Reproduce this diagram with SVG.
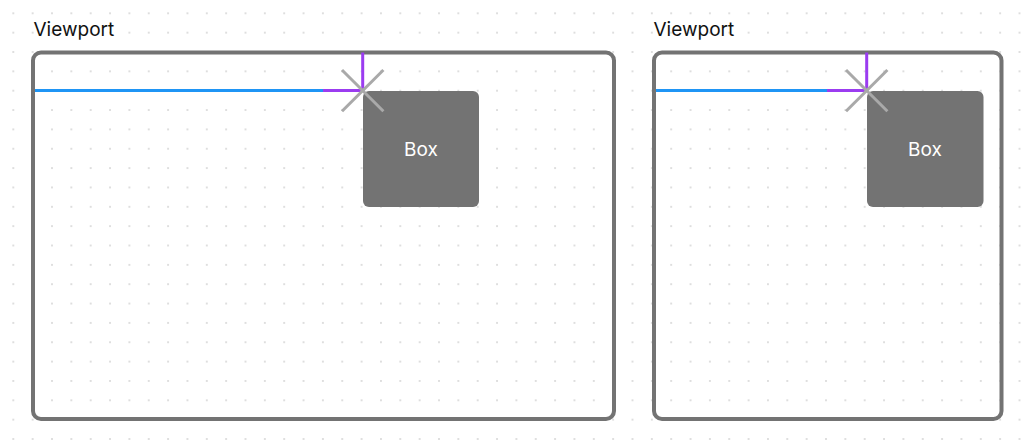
<svg xmlns="http://www.w3.org/2000/svg" width="1035" height="441" viewBox="0 0 1035 441">
  <defs>
    <pattern id="dots" x="13.3" y="13.3" width="19.35" height="19.35" patternUnits="userSpaceOnUse">
      <circle cx="0" cy="0" r="0.9" fill="#cfcfcf"/>
      <circle cx="19.35" cy="0" r="0.9" fill="#cfcfcf"/>
      <circle cx="0" cy="19.35" r="0.9" fill="#cfcfcf"/>
      <circle cx="19.35" cy="19.35" r="0.9" fill="#cfcfcf"/>
    </pattern>
  </defs>
  <style>
    .label { font-family: Inter, "Liberation Sans", sans-serif; font-size: 19px; fill: #111; }
    .viewport { fill: none; stroke: #737373; stroke-width: 4; }
    .box { fill: #737373; }
    .boxtext { font-family: Inter, "Liberation Sans", sans-serif; font-size: 19px; fill: #ffffff; text-anchor: middle; }
    .blue { stroke: #1f95f5; stroke-width: 3; fill: none; }
    .purple { stroke: #9b3cf0; stroke-width: 3; fill: none; }
    .cross { stroke: #a9a9a9; stroke-width: 3; fill: none; }
  </style>
  <rect width="1035" height="441" fill="#ffffff"/>
  <rect width="1035" height="441" fill="url(#dots)"/>

  <g id="viewport-left">
    <text class="label" x="33.5" y="35.5">Viewport</text>
    <rect class="viewport" x="33" y="52.5" width="581" height="366.5" rx="8"/>
  </g>
  <g id="viewport-right">
    <text class="label" x="653.5" y="35.5">Viewport</text>
    <rect class="viewport" x="654" y="52.5" width="347.5" height="366.5" rx="8"/>
  </g>

  <g id="box-left">
    <rect class="box" x="363" y="91" width="116" height="116" rx="6"/>
    <text class="boxtext" x="421" y="155.8">Box</text>
  </g>
  <g id="box-right">
    <rect class="box" x="867" y="91" width="116.5" height="116" rx="6"/>
    <text class="boxtext" x="925" y="155.8">Box</text>
  </g>

  <g id="connectors">
    <line class="blue" x1="35" y1="90.5" x2="323" y2="90.5"/>
    <polyline class="purple" points="323,90.5 362.7,90.5 362.7,52.5"/>
    <line class="cross" x1="342" y1="70" x2="383.4" y2="111.2"/>
    <line class="cross" x1="342" y1="111.2" x2="383.4" y2="70"/>

    <line class="blue" x1="656" y1="90.5" x2="827" y2="90.5"/>
    <polyline class="purple" points="827,90.5 866.7,90.5 866.7,52.5"/>
    <line class="cross" x1="846" y1="70" x2="887.4" y2="111.2"/>
    <line class="cross" x1="846" y1="111.2" x2="887.4" y2="70"/>
  </g>
</svg>
